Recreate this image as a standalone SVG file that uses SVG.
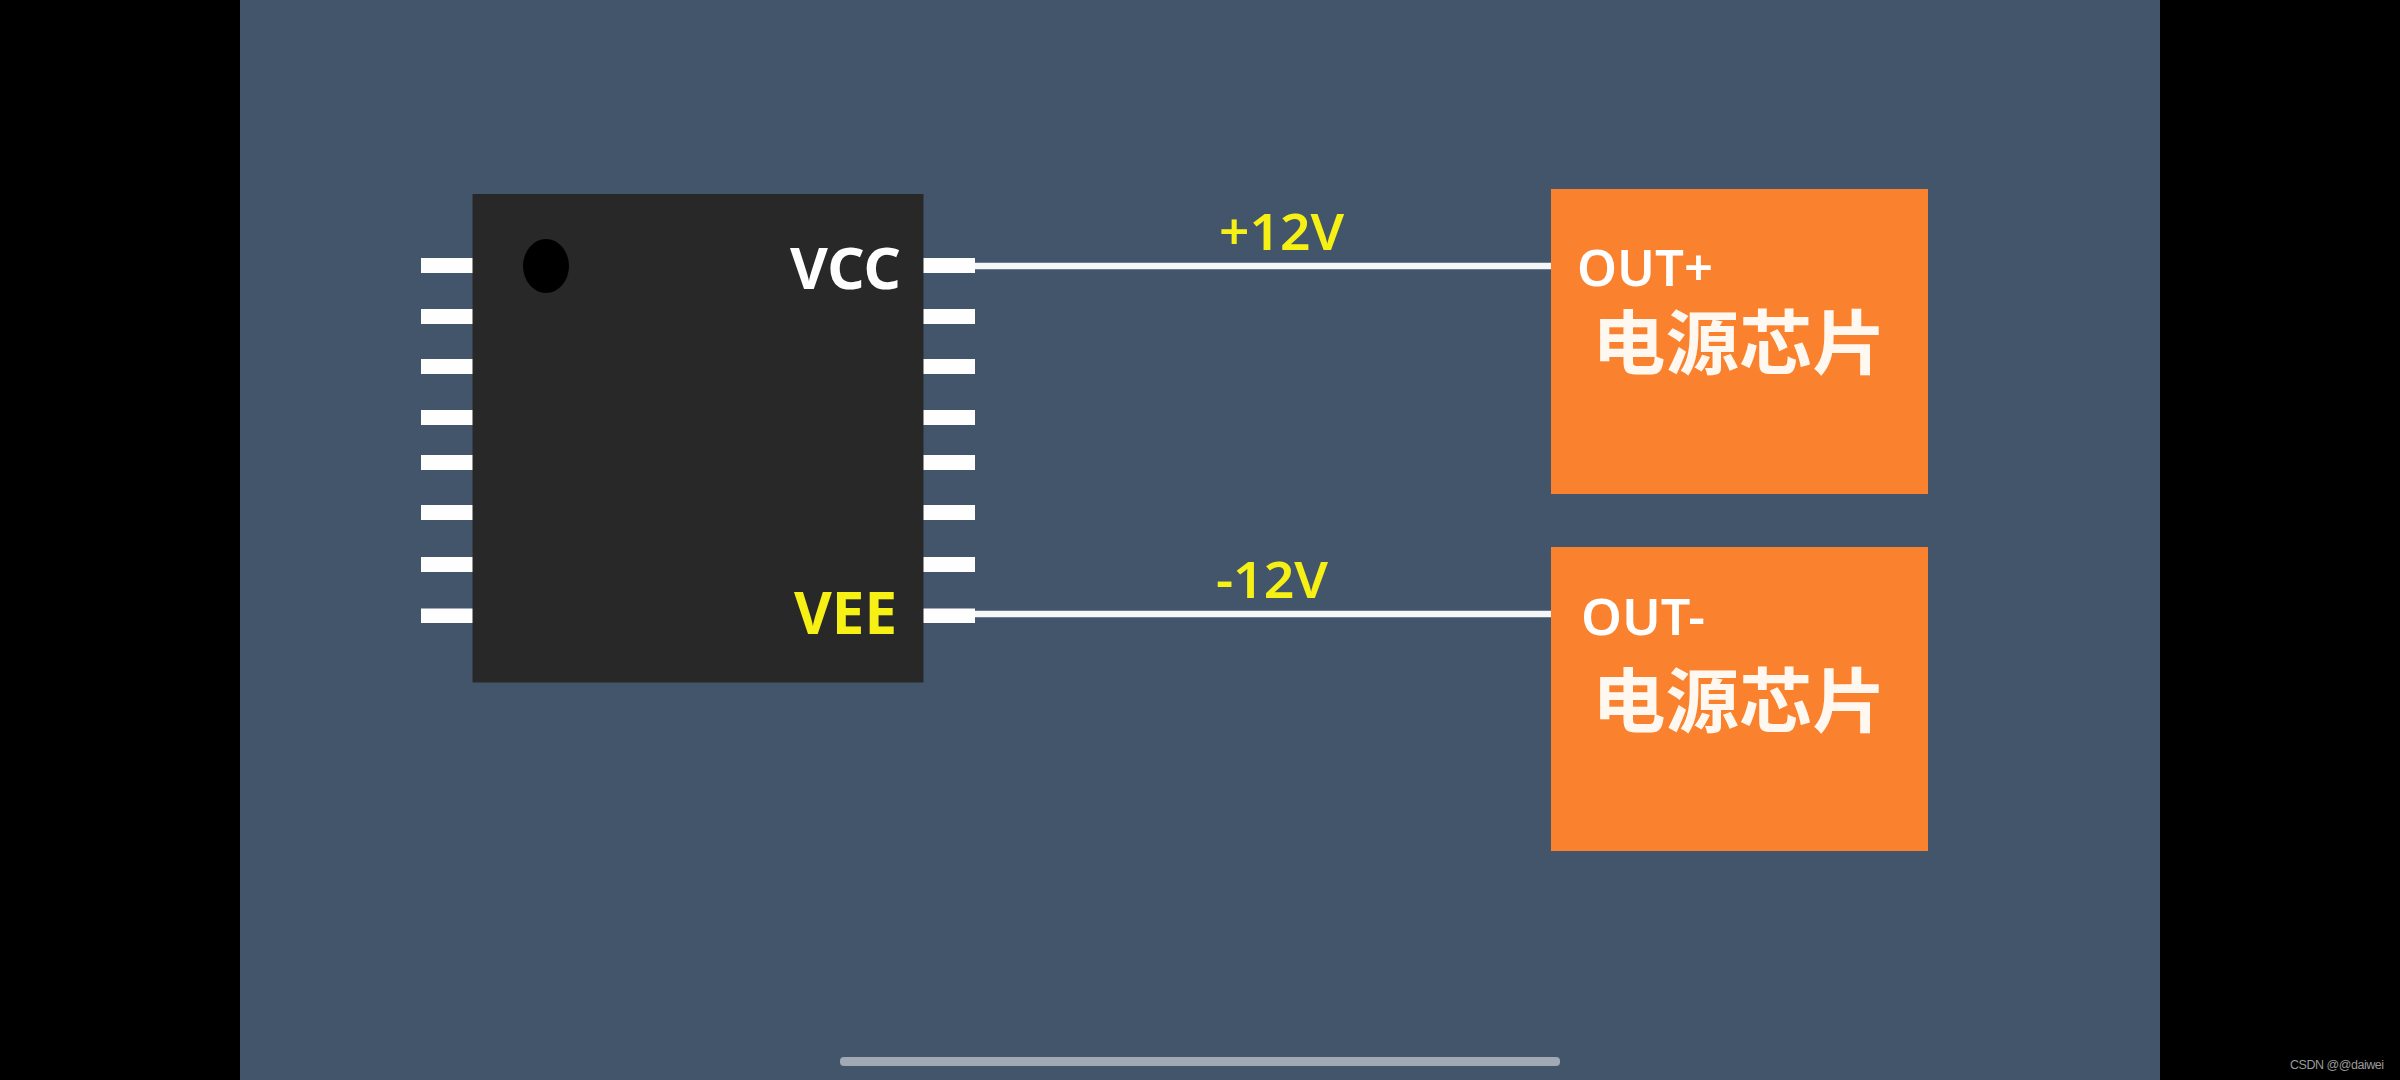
<svg xmlns="http://www.w3.org/2000/svg" width="2400" height="1080" viewBox="0 0 2400 1080">
<style>
.pin{fill:#fefefe}
.lat{font-family:"Noto Sans","Open Sans",sans-serif;font-weight:700;fill:#fefefe}
.thin{font-weight:600}
.y{fill:#f6f015}
.cjk{font-family:"Noto Sans CJK SC",sans-serif;font-weight:700;font-size:70px;fill:#fff8f0}
.box{fill:#fa822e}
.wire{stroke:#f4f6f8;stroke-width:6.5;fill:none}
</style>
<rect width="2400" height="1080" fill="#000"/>
<rect x="240" width="1920" height="1080" fill="#43556b"/>
<rect x="840" y="1057" width="720" height="9" rx="4" fill="#a0a9b4"/>
<g id="connectors">
<line class="wire" x1="975" y1="266" x2="1551" y2="266"/>
<line class="wire" x1="975" y1="614" x2="1551" y2="614"/>
</g>
<g id="chip">
<g class="pin">
<rect x="421" y="258" width="52" height="15"/><rect x="421" y="309" width="52" height="15"/><rect x="421" y="359" width="52" height="15"/><rect x="421" y="410" width="52" height="15"/><rect x="421" y="455" width="52" height="15"/><rect x="421" y="505" width="52" height="15"/><rect x="421" y="557" width="52" height="15"/><rect x="421" y="608.500" width="52" height="14.500"/>
<rect x="923" y="258" width="52" height="15"/><rect x="923" y="309" width="52" height="15"/><rect x="923" y="359" width="52" height="15"/><rect x="923" y="410" width="52" height="15"/><rect x="923" y="455" width="52" height="15"/><rect x="923" y="505" width="52" height="15"/><rect x="923" y="557" width="52" height="15"/><rect x="923" y="608.500" width="52" height="14.500"/>
</g>
<rect x="472.500" y="194" width="451" height="488.500" fill="#282828"/>
<ellipse cx="546" cy="266" rx="23" ry="27" fill="#000"/>
<text class="lat" x="790" y="289" font-size="58" textLength="111" lengthAdjust="spacingAndGlyphs">VCC</text>
<text class="lat y" x="794" y="634" font-size="60" textLength="103" lengthAdjust="spacingAndGlyphs">VEE</text>
</g>
<g id="label-plus12v"><text class="lat thin y" x="1219" y="250" font-size="50" textLength="125" lengthAdjust="spacingAndGlyphs">+12V</text></g>
<g id="label-minus12v"><text class="lat thin y" x="1216" y="598" font-size="50" textLength="112" lengthAdjust="spacingAndGlyphs">-12V</text></g>
<g id="power-chip-1">
<rect class="box" x="1551" y="189" width="377" height="305"/>
<text class="lat thin" x="1577" y="286" font-size="50" textLength="136" lengthAdjust="spacingAndGlyphs">OUT+</text>
<text class="cjk" x="1592" y="369" textLength="294" lengthAdjust="spacingAndGlyphs">电源芯片</text>
</g>
<g id="power-chip-2">
<rect class="box" x="1551" y="547" width="377" height="304"/>
<text class="lat thin" x="1581" y="635" font-size="50" textLength="124" lengthAdjust="spacingAndGlyphs">OUT-</text>
<text class="cjk" x="1592" y="727" textLength="294" lengthAdjust="spacingAndGlyphs">电源芯片</text>
</g>
<text x="2290" y="1069" font-family="Liberation Sans, sans-serif" font-size="12.500" fill="#9a9a9a" textLength="94">CSDN @@daiwei</text>
</svg>
